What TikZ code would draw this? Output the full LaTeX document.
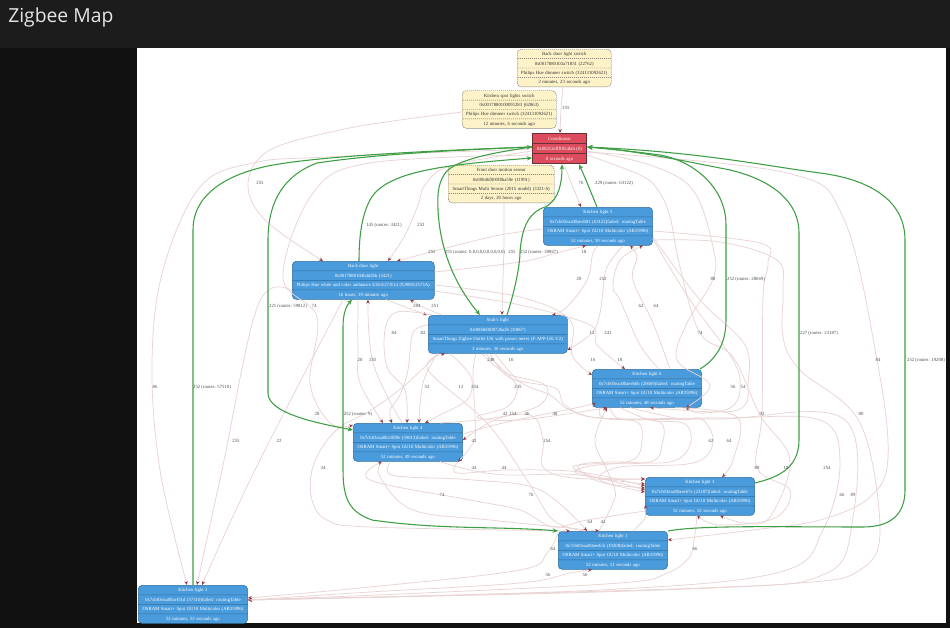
\documentclass[tikz,border=0pt]{standalone}
\usepackage{fontspec}
\setmainfont{Liberation Serif}
\newfontfamily\titlefont{Open Sans}
\usetikzlibrary{arrows.meta, shapes.multipart}

\definecolor{barbg}{HTML}{1C1C1C}
\definecolor{pagebg}{HTML}{111111}
\definecolor{panelwhite}{HTML}{FFFFFF}
\definecolor{routerblue}{HTML}{4A9BDC}
\definecolor{routerline}{HTML}{2F6E9E}
\definecolor{coordred}{HTML}{DC4C5C}
\definecolor{coordline}{HTML}{6A3038}
\definecolor{sensoryellow}{HTML}{FDF2C8}
\definecolor{linkpale}{HTML}{EAD3D3}
\definecolor{tipred}{HTML}{8E3A40}
\definecolor{routegreen}{HTML}{3E9E44}

\newcommand{\rowstrut}{\rule[-2.1pt]{0pt}{6.75pt}}

\begin{document}
\begin{tikzpicture}[
    x=.75pt, y=-.75pt,
    record/.style={shape=rectangle split, rectangle split parts=#1, anchor=north west,
        rounded corners=3pt, inner xsep=0pt, inner ysep=0pt, align=center,
        font=\fontsize{3.55}{4}\selectfont},
    router/.style={record=4, fill=routerblue, draw=routerline, line width=.4pt, text=white, text width=82pt},
    device/.style={record=4, fill=sensoryellow, draw=black!65, dash pattern=on .9pt off .6pt, line width=.3pt, text=black!80, text width=70.5pt},
    coordbox/.style={record=3, rounded corners=0pt, fill=coordred, draw=coordline, line width=.8pt, text=white, text width=40.5pt},
    link/.style={draw=linkpale, line width=.55pt, smooth, tension=.6, -{Stealth[length=3pt,width=2.6pt,color=tipred]}},
    route/.style={draw=routegreen, line width=.8pt, >={Stealth[length=4pt,width=3.4pt]}, ->},
    edgelbl/.style={font=\fontsize{3.55}{4}\selectfont, text=black!70, inner sep=0pt},
]

\fill[pagebg] (0,0) rectangle (950,628);
\fill[barbg] (0,0) rectangle (950,48);
\fill[panelwhite] (137,48) rectangle (946,623);
\useasboundingbox (0,0) rectangle (950,628);
\node[text=black!10, font=\titlefont\fontsize{14.5}{16}\selectfont, anchor=west, inner sep=0pt] (title) at (8,17) {Zigbee Map};

\node[device] (bdswitch) at (517,49) {\rowstrut Back door light switch
    \nodepart{two}\rowstrut 0x0017880103a71851 (22762)
    \nodepart{three}\rowstrut Philips Hue dimmer switch (324131092621)
    \nodepart{four}\rowstrut 2 minutes, 23 seconds ago};
\node[device] (kswitch) at (462,90.5) {\rowstrut Kitchen spot lights switch
    \nodepart{two}\rowstrut 0x0017880100091283 (62863)
    \nodepart{three}\rowstrut Philips Hue dimmer switch (324131092621)
    \nodepart{four}\rowstrut 12 minutes, 6 seconds ago};
\node[coordbox] (coord) at (532,133) {\rowstrut Coordinator
    \nodepart{two}\rowstrut 0x00212effff054fab (0)
    \nodepart{three}\rowstrut 0 seconds ago};
\node[device, text width=79.5pt] (fdsensor) at (448,165) {\rowstrut Front door motion sensor
    \nodepart{two}\rowstrut 0x000d6f000f8ba59e (11991)
    \nodepart{three}\rowstrut SmartThings Multi Sensor (2015 model) (3321-S)
    \nodepart{four}\rowstrut 2 days, 20 hours ago};
\node[router] (kl5) at (543,207) {\rowstrut Kitchen light 5
    \nodepart{two}\rowstrut 0x7cb03eaa00aeeb81 (63122)failed: routingTable
    \nodepart{three}\rowstrut OSRAM Smart+ Spot GU10 Multicolor (AB35996)
    \nodepart{four}\rowstrut 52 minutes, 50 seconds ago};
\node[router, text width=106.5pt] (bdlight) at (292,261) {\rowstrut Back door light
    \nodepart{two}\rowstrut 0x0017880104b4d2bb (3421)
    \nodepart{three}\rowstrut Philips Hue white and color ambiance E26/E27/E14 (9290012573A)
    \nodepart{four}\rowstrut 16 hours, 39 minutes ago};
\node[router, text width=104.25pt] (stub) at (428,315) {\rowstrut Stub's light
    \nodepart{two}\rowstrut 0x000d6f000726a2b (30867)
    \nodepart{three}\rowstrut SmartThings Zigbee Outlet UK with power meter (F-APP-UK-V2)
    \nodepart{four}\rowstrut 3 minutes, 36 seconds ago};
\node[router] (kl6) at (592,369) {\rowstrut Kitchen light 6
    \nodepart{two}\rowstrut 0x7cb03eaa00aeeb6b (28669)failed: routingTable
    \nodepart{three}\rowstrut OSRAM Smart+ Spot GU10 Multicolor (AB35996)
    \nodepart{four}\rowstrut 52 minutes, 48 seconds ago};
\node[router] (kl4) at (353,423) {\rowstrut Kitchen light 4
    \nodepart{two}\rowstrut 0x7cb03eaa00a3f09e (59812)failed: routingTable
    \nodepart{three}\rowstrut OSRAM Smart+ Spot GU10 Multicolor (AB35996)
    \nodepart{four}\rowstrut 52 minutes, 49 seconds ago};
\node[router] (kl3) at (645,477) {\rowstrut Kitchen light 3
    \nodepart{two}\rowstrut 0x7cb03eaa00aee67e (23187)failed: routingTable
    \nodepart{three}\rowstrut OSRAM Smart+ Spot GU10 Multicolor (AB35996)
    \nodepart{four}\rowstrut 52 minutes, 52 seconds ago};
\node[router] (kl1) at (558,531) {\rowstrut Kitchen light 1
    \nodepart{two}\rowstrut 0x7cb03eaa00aeefcb (19208)failed: routingTable
    \nodepart{three}\rowstrut OSRAM Smart+ Spot GU10 Multicolor (AB35996)
    \nodepart{four}\rowstrut 52 minutes, 51 seconds ago};
\node[router] (kl2) at (138,585) {\rowstrut Kitchen light 2
    \nodepart{two}\rowstrut 0x7cb03eaa00aef51d (57510)failed: routingTable
    \nodepart{three}\rowstrut OSRAM Smart+ Spot GU10 Multicolor (AB35996)
    \nodepart{four}\rowstrut 52 minutes, 53 seconds ago};

% pale links, top and left
\draw[link] plot coordinates {(bdswitch.south -| 563,0) (561,110) (coord.north -| 560,0)};
\draw[link] plot coordinates {(kswitch.west |- 0,112) (400,120) (340,130) (270,150) (248,183) (265,220) (bdlight.north -| 323,0)};
\draw[link] plot coordinates {(coord.south -| 564,0) (572,185) (kl5.north -| 581,0)};
\draw[link] plot coordinates {(fdsensor.south -| 504,0) (504,240) (503,280) (stub.north -| 502,0)};
\draw[link] plot coordinates {(coord.west |- 0,151) (450,166) (425,185) (418,205) (405,235) (bdlight.north -| 388,0)};
\draw[link] plot coordinates {(kl5.west |- 0,229) (500,235) (450,247) (bdlight.north -| 397,0)};
\draw[link] plot coordinates {(coord.west |- 0,149) (327,157) (253,163) (200,187) (163,270) (152,363) (160,470) (kl2.north -| 187,0)};
\draw[link] plot coordinates {(bdlight.west |- 0,291) (258,305) (222,470) (kl2.north -| 197,0)};
\draw[link] plot coordinates {(bdlight.south -| 343,0) (255,470) (kl2.north -| 202,0)};
\draw[link] plot coordinates {(coord.west |- 0,155) (370,163) (313,193) (283,277) (317,317) (310,383) (330,423) (kl4.west |- 0,425)};
\draw[link] plot coordinates {(stub.south -| 438,0) (403,387) (368,412) (343,425) (325,443) (312,470) (312,500) (327,520) (370,527) (kl1.north -| 570,0)};
\draw[link] plot coordinates {(bdlight.south -| 358,0) (358,350) (360,383) (kl4.north -| 383,0)};
\draw[link] plot coordinates {(kl4.north -| 402,0) (373,363) (bdlight.south -| 368,0)};
\draw[link] plot coordinates {(bdlight.south -| 386,0) (400,305) (stub.north -| 427,0)};
\draw[link] plot coordinates {(stub.north -| 442,0) (425,308) (bdlight.south -| 410,0)};
\draw[link] plot coordinates {(stub.north -| 432,0) (397,312) (385,330) (387,367) (405,390) (kl4.north -| 407,0)};
\draw[link] plot coordinates {(stub.west |- 0,325) (413,333) (408,370) (400,395) (390,410) (kl4.north -| 392,0)};
\draw[link] plot coordinates {(stub.south -| 437,0) (423,383) (kl4.north -| 419,0)};
\draw[link] plot coordinates {(stub.south -| 450,0) (462,365) (472,380) (467,400) (440,415) (kl4.north -| 425,0)};
\draw[link] plot coordinates {(stub.south -| 476,0) (473,373) (475,417) (474,441) (kl4.south -| 458,0)};
\draw[link] plot coordinates {(kl1.north -| 585,0) (553,520) (527,480) (487,423) (428,370) (stub.south -| 445,0)};

% pale links, middle
\draw[link] plot coordinates {(bdlight.east |- 0,272) (520,262) (560,252) (kl5.south -| 586,0)};
\draw[link] plot coordinates {(bdlight.east |- 0,285) (520,297) (570,320) (572,355) (kl6.west |- 0,375)};
\draw[link] plot coordinates {(bdlight.east |- 0,291) (520,305) (590,325) (597,345) (kl6.north -| 625,0)};
\draw[link] plot coordinates {(kl5.south -| 599,0) (593,253) (587,280) (567,307) (stub.north -| 552,0)};
\draw[link] plot coordinates {(kl5.south -| 623,0) (607,267) (603,290) (600,313) (592,333) (stub.east |- 0,350)};
\draw[link] plot coordinates {(kl6.north -| 659,0) (640,345) (620,300) (613,287) (620,260) (kl5.south -| 643,0)};
\draw[link] plot coordinates {(kl6.north -| 670,0) (653,323) (633,280) (637,257) (kl5.south -| 630,0)};
\draw[link] plot coordinates {(coord.east |- 0,151) (650,165) (693,190) (713,247) (713,279) (687,323) (677,360) (710,385) (kl6.south -| 686,0)};
\draw[link] plot coordinates {(coord.east |- 0,155) (640,175) (658,190) (670,217) (680,267) (700,333) (733,357) (760,415) (790,460) (770,517) (745,523) (kl3.south -| 720,0)};
\draw[link] plot coordinates {(kl5.east |- 0,239) (690,300) (733,360) (740,390) (730,408) (700,413) (kl6.south -| 686,0)};
\draw[link] plot coordinates {(kl5.east |- 0,237) (700,300) (745,345) (748,385) (745,405) (722,412) (kl6.south -| 650,0)};
\draw[link] plot coordinates {(stub.south -| 485,0) (500,367) (517,387) (507,407) (477,417) (520,420) (kl6.south -| 607,0)};
\draw[link] plot coordinates {(kl4.east |- 0,434) (507,422) (580,407) (kl6.west |- 0,403)};
\draw[link] plot coordinates {(stub.south -| 482,0) (505,373) (545,385) (540,405) (500,418) (485,425) (kl4.east |- 0,440)};
\draw[link] plot coordinates {(kl4.south -| 440,0) (470,470) (507,475) (580,475) (kl3.west |- 0,490)};
\draw[link] plot coordinates {(kl4.south -| 458,0) (457,473) (507,470) (580,472) (kl3.west |- 0,486)};
\draw[link] plot coordinates {(kl4.north -| 440,0) (480,420) (530,415) (543,440) (543,467) (573,478) (kl3.west |- 0,479)};
\draw[link] plot coordinates {(kl4.south -| 382,0) (380,477) (413,510) (490,520) (kl1.north -| 599,0)};
\draw[link] plot coordinates {(kl4.south -| 390,0) (388,473) (407,477) (473,480) (540,490) (kl1.north -| 587,0)};
\draw[link] plot coordinates {(kl3.west |- 0,511) (587,520) (553,527) (520,510) (470,500) (370,480) (kl4.south -| 382,0)};
\draw[link] plot coordinates {(kl1.north -| 633,0) (645,518) (kl3.west |- 0,505)};
\draw[link] plot coordinates {(kl1.north -| 599,0) (613,503) (615,490) (607,470) (595,440) (kl6.south -| 607,0)};

% pale arcs out of the band below light 6
\draw[link] plot coordinates {(kl6.south -| 600,0) (603,418) (637,422) (642,440) (633,460) (590,466) (575,472) (600,478) (kl3.west |- 0,479)};
\draw[link] plot coordinates {(kl6.south -| 610,0) (620,419) (660,422) (662,445) (650,462) (590,464) (573,468) (600,478) (kl3.west |- 0,484)};
\draw[link] plot coordinates {(kl6.south -| 620,0) (650,420) (685,424) (690,445) (670,462) (610,462) (578,466) (600,482) (kl3.west |- 0,488)};
\draw[link] plot coordinates {(kl6.south -| 630,0) (680,419) (703,420) (713,443) (693,463) (620,467) (600,480) (kl3.west |- 0,492)};
\draw[link] plot coordinates {(kl6.south -| 675,0) (737,417) (733,460) (kl3.north -| 722,0)};
\draw[link] plot coordinates {(kl5.east |- 0,231) (760,243) (768,263) (763,297) (762,413) (757,468) (790,490) (775,518) (720,525) (kl3.south -| 697,0)};

% pale links that go round on the right to light 2
\draw[link] plot coordinates {(kl5.east |- 0,240) (720,242) (777,260) (783,290) (783,337) (800,370) (860,423) (880,530) (860,570) (800,583) (600,592) (kl2.east |- 0,600)};
\draw[link] plot coordinates {(stub.south -| 490,0) (510,378) (555,388) (565,405) (600,418) (720,418) (820,420) (840,463) (823,530) (780,572) (600,590) (kl2.east |- 0,600)};
\draw[link] plot coordinates {(stub.south -| 495,0) (520,382) (550,395) (570,410) (610,419) (720,419) (845,420) (851,530) (820,576) (700,588) (kl2.east |- 0,600)};
\draw[link] plot coordinates {(coord.east |- 0,152) (787,173) (843,217) (877,360) (888,457) (870,497) (820,520) (753,530) (kl1.east |- 0,540)};
\draw[link] plot coordinates {(kl3.south -| 697,0) (693,547) (687,560) (667,573) (620,583) (400,594) (kl2.east |- 0,600)};
\draw[link] plot coordinates {(kl1.west |- 0,533) (547,553) (520,570) (370,587) (kl2.east |- 0,598)};
\draw[link] plot coordinates {(kl2.east |- 0,600) (370,592) (520,583) (570,573) (kl1.south -| 592,0)};

% routes to the coordinator
\draw[route] (kl5.north -| 597,0) .. controls (590,190) and (584,175) .. (coord.south -| 579,0);
\draw[route] (stub.north -| 507,0) .. controls (515,290) and (520,265) .. (520,252)
    .. controls (522,225) and (530,212) .. (545,207) .. controls (560,200) and (562,180) .. (coord.south -| 562,0);
\draw[route] (bdlight.north -| 359,0) .. controls (359,235) and (362,215) .. (370,200)
    .. controls (385,172) and (440,165) .. (coord.west |- 0,158);
\draw[route] (coord.west |- 0,147) .. controls (490,153) and (457,160) .. (446,172)
    .. controls (436,185) and (438,200) .. (438,210) .. controls (440,250) and (455,285) .. (stub.north -| 480,0);
\draw[route] (kl2.north -| 193,0) -- (193,230) .. controls (193,190) and (235,172) .. (273,165)
    .. controls (330,155) and (450,150) .. (coord.west |- 0,147);
\draw[route] (coord.west |- 0,147) .. controls (450,150) and (370,155) .. (317,163)
    .. controls (285,175) and (268,200) .. (268,240) -- (268,393) .. controls (268,412) and (310,422) .. (kl4.west |- 0,430);
\draw[route, <->] (kl1.west |- 0,531) .. controls (500,526) and (440,530) .. (372,520)
    .. controls (350,512) and (343,500) .. (343,470) -- (343,327) .. controls (343,312) and (347,305) .. (bdlight.south -| 352,0);
\draw[route] (kl6.north -| 700,0) .. controls (715,360) and (726,345) .. (726,320) -- (726,225)
    .. controls (726,185) and (690,160) .. (660,155) .. controls (630,151) and (610,149) .. (coord.east |- 0,147);
\draw[route] (kl3.east |- 0,483) .. controls (775,478) and (799,470) .. (799,440) -- (799,233)
    .. controls (799,195) and (760,175) .. (720,168) .. controls (670,158) and (630,150) .. (coord.east |- 0,147);
\draw[route] (kl1.east |- 0,531) .. controls (700,525) and (780,527) .. (863,527)
    .. controls (890,527) and (905,515) .. (905,490) -- (905,240) .. controls (905,195) and (860,178) .. (820,173)
    .. controls (760,165) and (700,152) .. (coord.east |- 0,147);

\node[edgelbl] (lb1) at (566,108) {255};
\node[edgelbl] (lb2) at (581,183) {76};
\node[edgelbl] (lb3) at (614,183) {229 (routes: 63122)};
\node[edgelbl] (lb4) at (260,183) {255};
\node[edgelbl] (lb5) at (384,225) {145 (routes: 3421)};
\node[edgelbl] (lb6) at (421,225) {252};
\node[edgelbl] (lb7) at (432,252) {255};
\node[edgelbl] (lb8) at (475,252) {255 (routes: 0,0,0,0,0,0,0,0,0,0)};
\node[edgelbl] (lb9) at (512,252) {255};
\node[edgelbl] (lb10) at (539,252) {252 (routes: 30867)};
\node[edgelbl] (lb11) at (584,252) {18};
\node[edgelbl] (lb12) at (579,279) {20};
\node[edgelbl] (lb13) at (603,279) {252};
\node[edgelbl] (lb14) at (713,279) {88};
\node[edgelbl] (lb15) at (746,279) {252 (routes: 28669)};
\node[edgelbl] (lb16) at (288,306) {221 (routes: 59812)};
\node[edgelbl] (lb17) at (314,306) {74};
\node[edgelbl] (lb18) at (417,306) {204};
\node[edgelbl] (lb19) at (435,306) {251};
\node[edgelbl] (lb20) at (641,306) {62};
\node[edgelbl] (lb21) at (656,306) {64};
\node[edgelbl] (lb22) at (394,333) {84};
\node[edgelbl] (lb23) at (423,333) {82};
\node[edgelbl] (lb24) at (592,333) {12};
\node[edgelbl] (lb25) at (608,333) {241};
\node[edgelbl] (lb26) at (700,333) {74};
\node[edgelbl] (lb27) at (819,333) {227 (routes: 23187)};
\node[edgelbl] (lb28) at (360,360) {20};
\node[edgelbl] (lb29) at (373,360) {255};
\node[edgelbl] (lb30) at (491,360) {249};
\node[edgelbl] (lb31) at (511,360) {16};
\node[edgelbl] (lb32) at (593,360) {16};
\node[edgelbl] (lb33) at (620,360) {18};
\node[edgelbl] (lb34) at (878,360) {84};
\node[edgelbl] (lb35) at (926,360) {252 (routes: 19208)};
\node[edgelbl] (lb36) at (155,387) {86};
\node[edgelbl] (lb37) at (212,387) {252 (routes: 57510)};
\node[edgelbl] (lb38) at (427,387) {52};
\node[edgelbl] (lb39) at (461,387) {12};
\node[edgelbl] (lb40) at (475,387) {254};
\node[edgelbl] (lb41) at (518,387) {235};
\node[edgelbl] (lb42) at (733,387) {56};
\node[edgelbl] (lb43) at (743,387) {54};
\node[edgelbl] (lb44) at (317,414) {28};
\node[edgelbl] (lb45) at (358,414) {252 (routes: 9)};
\node[edgelbl] (lb46) at (505,414) {42};
\node[edgelbl] (lb47) at (513,414) {254};
\node[edgelbl] (lb48) at (527,414) {46};
\node[edgelbl] (lb49) at (555,414) {48};
\node[edgelbl] (lb50) at (762,414) {92};
\node[edgelbl] (lb51) at (861,414) {80};
\node[edgelbl] (lb52) at (236,441) {255};
\node[edgelbl] (lb53) at (279,441) {22};
\node[edgelbl] (lb54) at (474,441) {42};
\node[edgelbl] (lb55) at (547,441) {254};
\node[edgelbl] (lb56) at (711,441) {62};
\node[edgelbl] (lb57) at (729,441) {64};
\node[edgelbl] (lb58) at (323,468) {34};
\node[edgelbl] (lb59) at (474,468) {44};
\node[edgelbl] (lb60) at (504,468) {44};
\node[edgelbl] (lb61) at (757,468) {89};
\node[edgelbl] (lb62) at (786,468) {18};
\node[edgelbl] (lb63) at (827,468) {254};
\node[edgelbl] (lb64) at (442,495) {74};
\node[edgelbl] (lb65) at (531,495) {76};
\node[edgelbl] (lb66) at (842,495) {66};
\node[edgelbl] (lb67) at (853,495) {89};
\node[edgelbl] (lb68) at (590,522) {64};
\node[edgelbl] (lb69) at (603,522) {42};
\node[edgelbl] (lb70) at (553,549) {64};
\node[edgelbl] (lb71) at (695,549) {66};
\node[edgelbl] (lb72) at (548,575) {56};
\node[edgelbl] (lb73) at (585,575) {56};
\end{tikzpicture}
\end{document}
